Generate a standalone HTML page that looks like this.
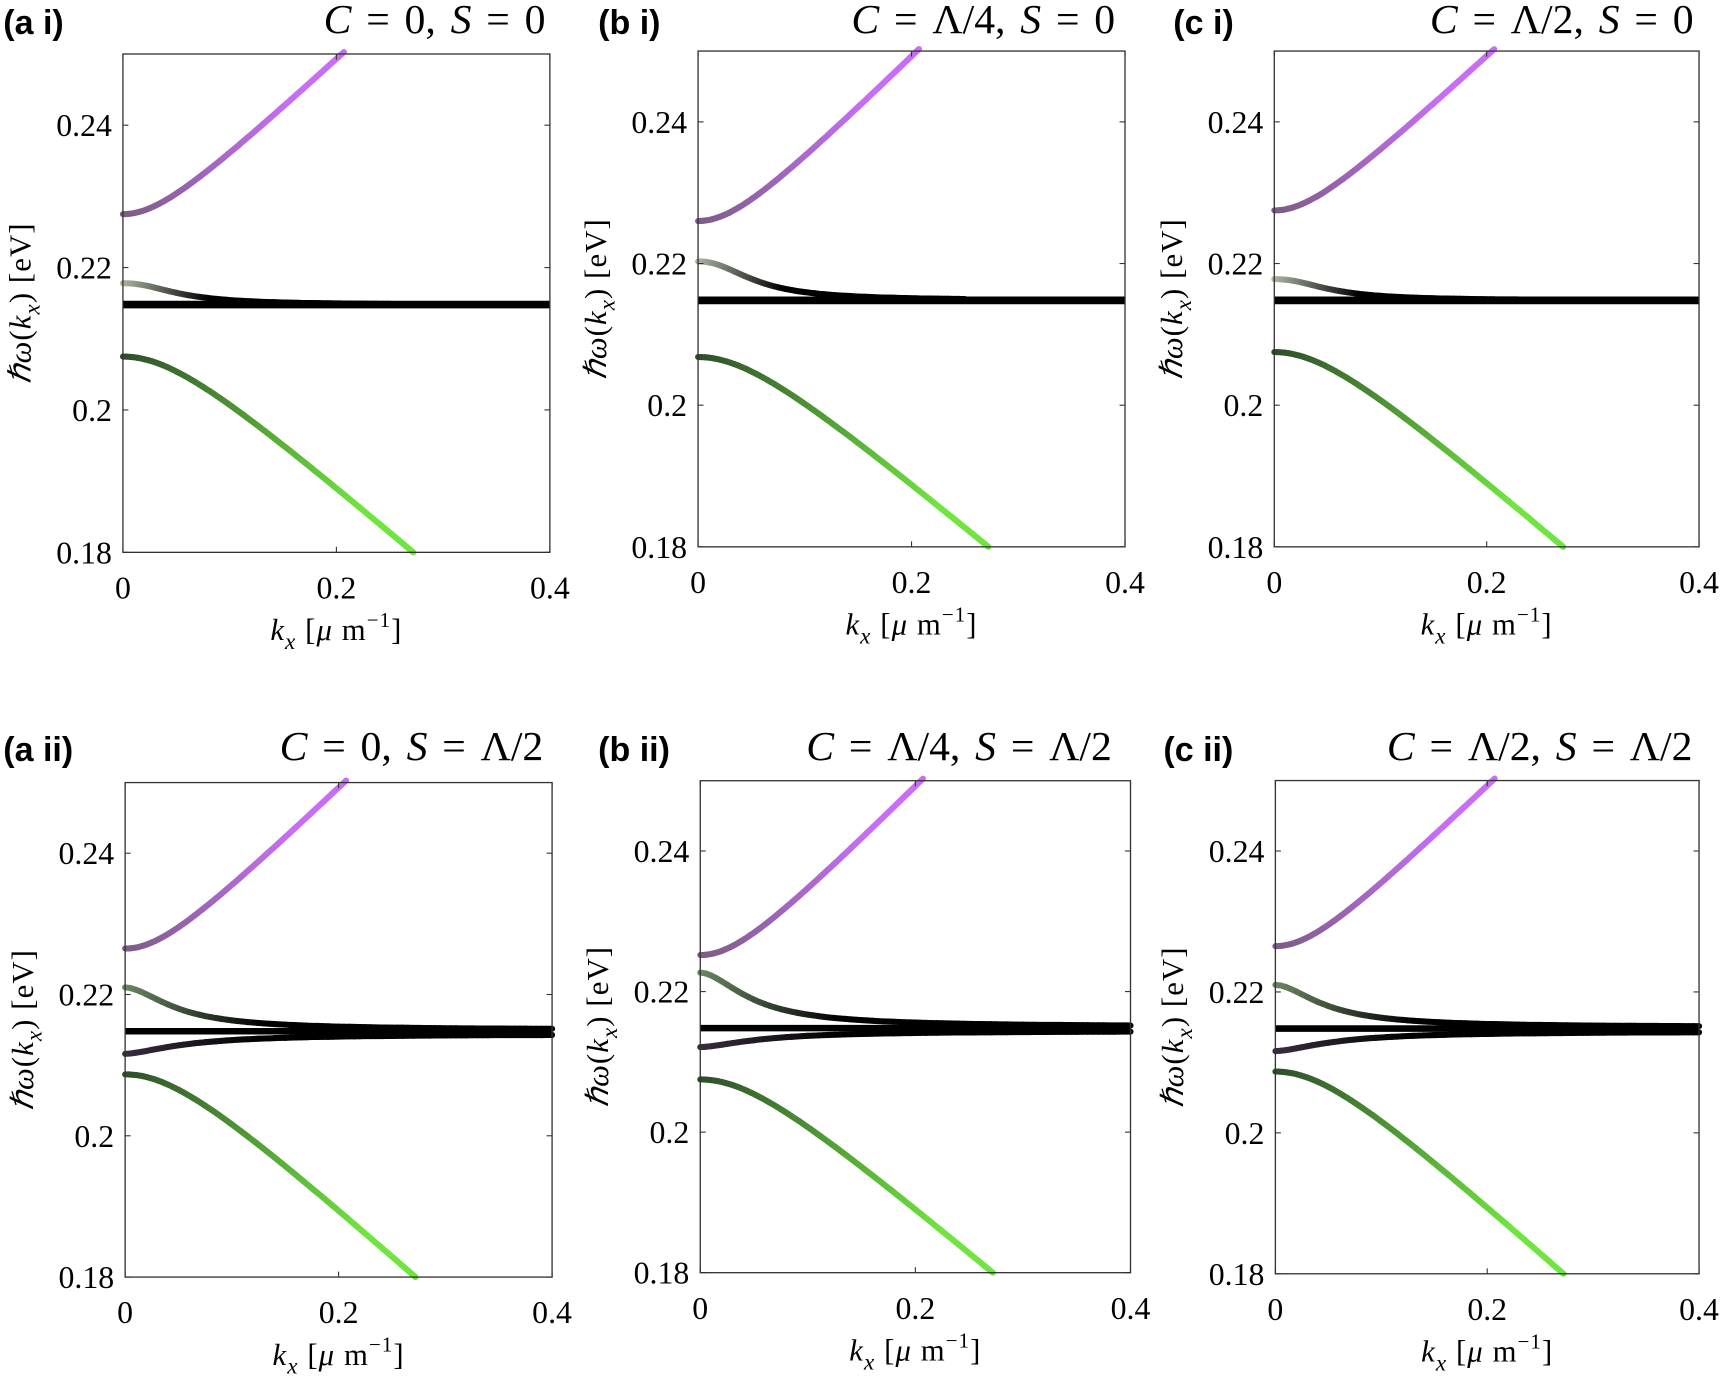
<!DOCTYPE html>
<html><head><meta charset="utf-8"><style>
html,body{margin:0;padding:0;background:#fff;}
svg{display:block;}
.tk{font-family:"Liberation Serif",serif;font-size:29px;fill:#000;}
.lb{font-family:"Liberation Serif",serif;font-size:28px;fill:#000;}
.tt{font-family:"Liberation Serif",serif;font-size:38px;fill:#000;}
.pl{font-family:"Liberation Sans",sans-serif;font-size:31px;font-weight:bold;fill:#000;}
</style></head><body>
<svg id="s" width="1721" height="1377" viewBox="0 0 1568 1254" preserveAspectRatio="none" xmlns="http://www.w3.org/2000/svg"></svg>
<script>
const S=document.getElementById('s');let h='';
function lerp(a,b,t){return a+(b-a)*t;}
function col(c1,c2,t){return 'rgb('+[0,1,2].map(i=>Math.round(lerp(c1[i],c2[i],t))).join(',')+')';}
const panels=[
 {L:112,R:501,B:503,Y24:114,lab:'(a i)',lx:3,ly:31,title:'<tspan font-style="italic">C</tspan> = 0, <tspan font-style="italic">S</tspan> = 0',tr:497,ty:30,ii:false,u:0.2275,m:0.2178,l:0.2075},
 {L:636,R:1025,B:498,Y24:111,lab:'(b i)',lx:545,ly:31,title:'<tspan font-style="italic">C</tspan> = Λ/4, <tspan font-style="italic">S</tspan> = 0',tr:1016,ty:30,ii:false,u:0.226,m:0.2203,l:0.2068},
 {L:1161,R:1548,B:498,Y24:111,lab:'(c i)',lx:1069,ly:31,title:'<tspan font-style="italic">C</tspan> = Λ/2, <tspan font-style="italic">S</tspan> = 0',tr:1543,ty:30,ii:false,u:0.2275,m:0.2178,l:0.2075},
 {L:114,R:503,B:1163,Y24:777,lab:'(a ii)',lx:3,ly:693,title:'<tspan font-style="italic">C</tspan> = 0, <tspan font-style="italic">S</tspan> = Λ/2',tr:495,ty:692,ii:true,u:0.2265,m:0.2208,n:0.2120,l:0.2087},
 {L:638,R:1030,B:1159,Y24:775,lab:'(b ii)',lx:545,ly:693,title:'<tspan font-style="italic">C</tspan> = Λ/4, <tspan font-style="italic">S</tspan> = Λ/2',tr:1013,ty:692,ii:true,u:0.2252,m:0.2225,n:0.2125,l:0.2075},
 {L:1162,R:1548,B:1160,Y24:775,lab:'(c ii)',lx:1060,ly:693,title:'<tspan font-style="italic">C</tspan> = Λ/2, <tspan font-style="italic">S</tspan> = Λ/2',tr:1542,ty:692,ii:true,u:0.2265,m:0.2208,n:0.2120,l:0.2087}
];
function curve(P,f,kmax,c1,c2,w,tp){
 const step=(P.B-P.Y24)/3;const X=k=>P.L+(P.R-P.L)*k/0.4;const Y=e=>P.B-(e-0.18)/0.02*step;
 const N=80;let px=X(0),py=Y(f(0));
 for(let i=1;i<=N;i++){const k=kmax*i/N;const x=X(k),y=Y(f(k));const t=tp?tp(i/N):i/N;
  h+=`<line x1="${px.toFixed(1)}" y1="${py.toFixed(1)}" x2="${x.toFixed(1)}" y2="${y.toFixed(1)}" stroke="${col(c1,c2,t)}" stroke-width="${w}" stroke-linecap="round"/>`;px=x;py=y;}
}
const E0=0.2148;
panels.forEach(P=>{
 const step=(P.B-P.Y24)/3;const T=P.B-3.5*step;const X=k=>P.L+(P.R-P.L)*k/0.4;const Y=e=>P.B-(e-0.18)/0.02*step;
 const su=(0.25-P.u)/(Math.sqrt(0.205*0.205+0.0025)-0.05);
 curve(P,k=>P.u+su*(Math.sqrt(k*k+0.0025)-0.05),0.207,[122,92,130],[200,110,245],5.5,t=>Math.min(1,t*1.3));
 const sl=(P.l-0.18)/(Math.sqrt(0.272*0.272+0.0049)-0.07);
 curve(P,k=>P.l-sl*(Math.sqrt(k*k+0.0049)-0.07),0.272,[45,74,42],[112,228,64],5.5,t=>Math.min(1,t*1.2));
 h+=`<line x1="${P.L}" y1="${Y(E0)}" x2="${P.R}" y2="${Y(E0)}" stroke="#000" stroke-width="${P.ii?6:7}"/>`;
 if(!P.ii){
  curve(P,k=>E0+(P.m-E0)/(1+Math.pow(k/0.055,2.2)),0.25,[176,188,168],[0,0,0],5.5,t=>Math.min(1,t*3));
 } else {
  curve(P,k=>E0+0.0002+(P.m-E0)/(1+Math.pow(k/0.05,1.8)),0.4,[110,140,100],[0,0,0],5.5,t=>Math.min(1,t*3));
  curve(P,k=>E0-0.0004-(E0-P.n)/(1+Math.pow(k/0.06,1.6)),0.4,[60,45,65],[0,0,0],5.5,t=>Math.min(1,t*3));
  h+=`<rect x="${X(0.23)}" y="${Y(E0+0.0005)}" width="${P.R-X(0.23)}" height="${Y(E0-0.0009)-Y(E0+0.0005)}" fill="#000"/>`;
 }
 h+=`<rect x="${P.L}" y="${T}" width="${P.R-P.L}" height="${P.B-T}" fill="none" stroke="#333" stroke-width="1.2"/>`;
 [0.18,0.2,0.22,0.24].forEach((v,i)=>{const y=Y(v);
  h+=`<line x1="${P.L}" y1="${y}" x2="${P.L+5}" y2="${y}" stroke="#333"/><line x1="${P.R}" y1="${y}" x2="${P.R-5}" y2="${y}" stroke="#333"/>`;
  h+=`<text class="tk" x="${P.L-10}" y="${y+10}" text-anchor="end">${['0.18','0.2','0.22','0.24'][i]}</text>`;});
 [0,0.2,0.4].forEach((v,i)=>{const x=X(v);
  h+=`<line x1="${x}" y1="${P.B}" x2="${x}" y2="${P.B-5}" stroke="#333"/><line x1="${x}" y1="${T}" x2="${x}" y2="${T+5}" stroke="#333"/>`;
  h+=`<text class="tk" x="${x}" y="${P.B+42}" text-anchor="middle">${['0','0.2','0.4'][i]}</text>`;});
 const cx=(P.L+P.R)/2;
 h+=`<text class="lb" x="${cx}" y="${P.B+80}" text-anchor="middle" letter-spacing="1"><tspan font-style="italic">k</tspan><tspan font-style="italic" font-size="21" dy="8">x</tspan><tspan dy="-8">  [</tspan><tspan font-style="italic">μ</tspan><tspan> m</tspan><tspan font-size="19" dy="-12">−1</tspan><tspan dy="12">]</tspan></text>`;
 const cy=(T+P.B)/2;const lx=P.L-84;
 h+=`<text class="lb" transform="translate(${lx},${cy}) rotate(-90)" text-anchor="middle" letter-spacing="1"><tspan font-style="italic">ℏω</tspan>(<tspan font-style="italic">k</tspan><tspan font-style="italic" font-size="21" dy="8">x</tspan><tspan dy="-8">)  [eV]</tspan></text>`;
 h+=`<text class="pl" x="${P.lx}" y="${P.ly}">${P.lab}</text>`;
 h+=`<text class="tt" x="${P.tr}" y="${P.ty}" text-anchor="end" word-spacing="4">${P.title}</text>`;
});
S.innerHTML=h;
</script>
</body></html>
